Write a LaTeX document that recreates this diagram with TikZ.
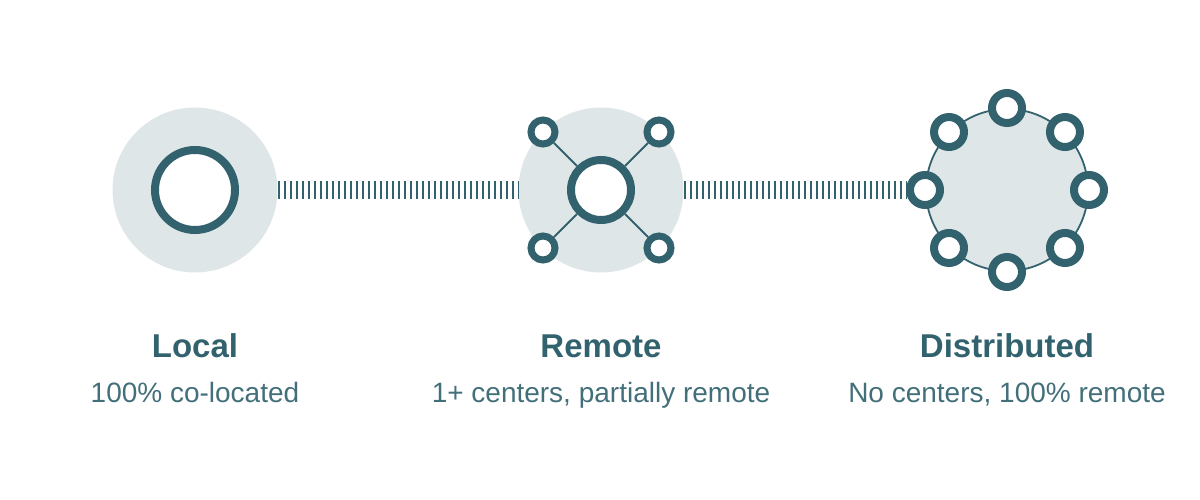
\documentclass[tikz,border=0pt]{standalone}
\usepackage{fontspec}
\setmainfont{Liberation Sans}
\definecolor{hubteal}{RGB}{50,98,110}
\definecolor{hubgray}{RGB}{223,230,232}
\usetikzlibrary{positioning,calc}

\begin{document}
\begin{tikzpicture}[x=1pt,y=-1pt,
  disc/.style={circle,fill=hubgray,minimum size=165pt,inner sep=0pt},
  ring/.style={circle,draw=hubteal,fill=white,inner sep=0pt,line width=#1},
  ticks/.style={hubteal,line width=17pt,dash pattern=on 2pt off 4pt},
  title/.style={font=\bfseries\fontsize{33}{36}\selectfont,text=hubteal,anchor=base},
  sub/.style={font=\fontsize{28}{30}\selectfont,text=hubteal!92!white,anchor=base}]
  \useasboundingbox (0,0) rectangle (1200,500);
  % local
  \node[disc] (locbg) at (195,190) {};
  \node[ring=8pt,minimum size=80pt] (locc) at (195,190) {};
  % remote
  \node[disc] (rembg) at (601,190) {};
  \node[ring=8pt,minimum size=60pt] (remc) at (601,190) {};
  \foreach \n/\dx/\dy in {r1/-58/-58,r2/58/-58,r3/-58/58,r4/58/58} {
    \node[ring=7pt,minimum size=24pt] (\n) at (601+\dx,190+\dy) {};
    \draw[hubteal,line width=2pt] (remc) -- (\n);
  }
  % distributed
  \node[disc,draw=hubteal,line width=1.8pt,minimum size=162pt] (disbg) at (1007,190) {};
  \foreach \a in {0,45,...,315}
    \node[ring=8pt,minimum size=30pt] (d\a) at ($(1007,190)+(\a:82)$) {};
  % connectors
  \draw[ticks] (locbg.east) -- (rembg.west);
  \draw[ticks] (rembg.east) -- (d180.west);
  % labels
  \node[title] (loct) at (195,357) {Local};
  \node[sub] (locs) at (195,402) {100\% co-located};
  \node[title] (remt) at (601,357) {Remote};
  \node[sub] (rems) at (601,402) {1+ centers, partially remote};
  \node[title] (dist) at (1007,357) {Distributed};
  \node[sub] (diss) at (1007,402) {No centers, 100\% remote};
\end{tikzpicture}
\end{document}
